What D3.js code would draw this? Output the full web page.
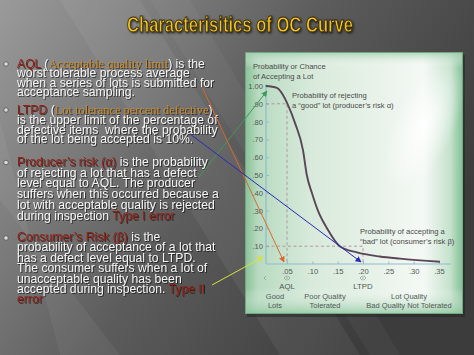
<!DOCTYPE html>
<html><head><meta charset="utf-8">
<script src="https://cdn.jsdelivr.net/npm/d3@7/dist/d3.min.js"></script>
<style>
html,body{margin:0;padding:0;background:#4a4a4a;}
svg{display:block;}
</style></head>
<body>
<div id="chart"></div>
<script>
// ---------- data ----------
const yTickValues = [0.10,0.20,0.30,0.40,0.50,0.60,0.70,0.80,0.90,1.00];
const yTickLabels = [".10",".20",".30",".40",".50",".60",".70",".80",".90","1.00"];
const xTickValues = [0.05,0.10,0.15,0.20,0.25,0.30,0.35];
const xTickLabels = [".05",".10",".15",".20",".25",".30",".35"];
// OC curve: fraction defective vs probability of acceptance
const ocDefective = [0.008,0.030,0.042,0.050,0.066,0.0815,0.089,0.099,0.111,0.129,0.154,0.188,0.233,0.273,0.352];
const ocProbAccept = [1.00,0.99,0.95,0.905,0.79,0.64,0.50,0.40,0.30,0.20,0.10,0.065,0.042,0.030,0.013];
const aqlValue = 0.05, ltpdValue = 0.20, alphaLevel = 0.90, betaLevel = 0.10;
const markerLabels = ["AQL","LTPD"];
const zoneLabels = [["Good","Lots"],["Poor Quality","Tolerated"],["Lot Quality","Bad Quality Not Tolerated"]];

const W = 474, H = 355;
const svg = d3.select("#chart").append("svg").attr("width",W).attr("height",H);
const defs = svg.append("defs");

// background
const bg = defs.append("linearGradient").attr("id","bg").attr("x1","0").attr("y1","0").attr("x2","1").attr("y2","0.5");
[["0","#9a9a9a"],["0.3","#7a7a7a"],["0.55","#5c5c5c"],["1","#3c3c3c"]].forEach(s=>bg.append("stop").attr("offset",s[0]).attr("stop-color",s[1]));
svg.append("rect").attr("width",W).attr("height",H).attr("fill","url(#bg)");
const streak = (pts,op)=>svg.append("polygon").attr("points",pts).attr("fill","#ffffff").attr("opacity",op);
streak("60,0 140,0 360,355 280,355",0.06);
streak("0,120 0,200 120,355 60,355",0.05);
streak("150,0 190,0 400,355 370,355",0.04);

// title
svg.append("text").attr("x",240).attr("y",32).attr("text-anchor","middle")
  .attr("font-family","'Liberation Sans Narrow','Arial Narrow','Liberation Sans',sans-serif")
  .attr("font-weight","bold").attr("font-size",22.5)
  .attr("textLength",226).attr("lengthAdjust","spacingAndGlyphs")
  .attr("fill","#f2c51c").attr("stroke","#3a2c08").attr("stroke-width",0.9)
  .style("filter","drop-shadow(1px 1px 1px rgba(0,0,0,0.65))")
  .text("Characterisitics of OC Curve");

// ---------- chart panel ----------
const pg = defs.append("linearGradient").attr("id","panel").attr("x1","0").attr("y1","0").attr("x2","1").attr("y2","0");
[["0","#88c098"],["0.06","#b8dac0"],["0.3","#d8eadb"],["0.6","#e8f2e9"],["0.82","#f5f9f5"],["0.94","#c6e2cd"],["1","#82bf95"]].forEach(s=>pg.append("stop").attr("offset",s[0]).attr("stop-color",s[1]));
const pv = defs.append("linearGradient").attr("id","panelv").attr("x1","0").attr("y1","0").attr("x2","0").attr("y2","1");
[["0","#9ccaa8",0.8],["0.06","#ffffff",0],["0.9","#ffffff",0],["1","#8cc49c",0.8]].forEach(s=>pv.append("stop").attr("offset",s[0]).attr("stop-color",s[1]).attr("stop-opacity",s[2]));
const hl = defs.append("radialGradient").attr("id","hl").attr("cx","0.5").attr("cy","0.5").attr("r","0.5");
hl.append("stop").attr("offset","0").attr("stop-color","#ffffff").attr("stop-opacity",0.9);
hl.append("stop").attr("offset","1").attr("stop-color","#ffffff").attr("stop-opacity",0);

svg.append("rect").attr("x",247).attr("y",55).attr("width",218).attr("height",262).attr("fill","#222").attr("opacity",0.5);
svg.append("rect").attr("x",245).attr("y",52).attr("width",218).attr("height",262).attr("fill","url(#panel)");
svg.append("rect").attr("x",245).attr("y",52).attr("width",218).attr("height",262).attr("fill","url(#panelv)");
svg.append("ellipse").attr("cx",425).attr("cy",125).attr("rx",30).attr("ry",70).attr("fill","url(#hl)").attr("transform","rotate(25,425,125)");
svg.append("rect").attr("x",245.5).attr("y",52.5).attr("width",217).attr("height",261).attr("fill","none").attr("stroke","#6fa982").attr("stroke-width",1);

// scales
const x = d3.scaleLinear().domain([0,0.35]).range([261.7,439]);
const y = d3.scaleLinear().domain([0,1]).range([264,86]);
const axisColor = "#8fbccb", labelColor = "#505a55";

// y axis
const yAxis = d3.axisRight(y).tickValues(yTickValues).tickFormat((d,i)=>yTickLabels[i]).tickSize(3).tickSizeOuter(0);
const gy = svg.append("g").attr("transform","translate(266,0)").call(yAxis);
gy.select(".domain").attr("stroke",axisColor).attr("stroke-width",1.2).attr("d","M0,"+y(1.01)+"V"+y(0));
gy.selectAll(".tick line").attr("stroke",axisColor);
gy.selectAll(".tick text").attr("x",-3).attr("text-anchor","end").attr("fill",labelColor)
  .attr("font-family","'Liberation Sans',Arial,sans-serif").attr("font-size",7.6);

// x axis
const xAxis = d3.axisBottom(x).tickValues(xTickValues).tickFormat((d,i)=>xTickLabels[i]).tickSize(0).tickPadding(5).tickSizeOuter(0);
const gx = svg.append("g").attr("transform","translate(0,"+y(0)+")").call(xAxis);
gx.select(".domain").attr("stroke",axisColor).attr("stroke-width",1.2).attr("d","M266,0H451");
gx.selectAll(".tick").append("line").attr("y1",0).attr("y2",-2.5).attr("stroke",axisColor);
gx.selectAll(".tick text").attr("fill",labelColor).attr("font-family","'Liberation Sans',Arial,sans-serif").attr("font-size",7.6);

// dashed reference lines
const dash = "#b08e98";
[[aqlValue,alphaLevel],[ltpdValue,betaLevel]].forEach(r=>{
  svg.append("path").attr("d","M266,"+y(r[1])+"H"+x(r[0])+"V"+y(0))
    .attr("fill","none").attr("stroke",dash).attr("stroke-width",0.9).attr("stroke-dasharray","3,2.5");
});

// OC curve
const line = d3.line().x((d,i)=>x(ocDefective[i])).y(d=>y(d)).curve(d3.curveMonotoneX);
svg.append("path").attr("d",line(ocProbAccept)).attr("fill","none").attr("stroke","#5a4656").attr("stroke-width",1.9);

// marker glyphs under axis
const mk = svg.append("g").attr("stroke","#8a9a90").attr("fill","none").attr("stroke-width",0.7);
[aqlValue,ltpdValue].forEach(v=>{
  const cx = x(v), cy = 278;
  mk.append("path").attr("d",`M${cx-1},${cy-2}L${cx-3},${cy}L${cx-1},${cy+2}M${cx+1},${cy-2}L${cx+3},${cy}L${cx+1},${cy+2}M${cx},${cy-2.5}V${cy+2.5}`);
});
mk.append("path").attr("d","M266,276L264,278L266,280");

const tfont = "'Liberation Sans',Arial,sans-serif";
[aqlValue,ltpdValue].forEach((v,i)=>{
  svg.append("text").attr("x",x(v)).attr("y",289).attr("text-anchor","middle").attr("font-family",tfont)
    .attr("font-size",7.8).attr("fill",labelColor).text(markerLabels[i]);
});
const zoneX = [275,325,409];
zoneLabels.forEach((lbl,i)=>{
  lbl.forEach((t,j)=>{
    svg.append("text").attr("x",zoneX[i]).attr("y",299+j*9).attr("text-anchor","middle").attr("font-family",tfont)
      .attr("font-size",7.5).attr("fill",labelColor).text(t);
  });
});

// chart annotations
const ann = (xx,yy,t)=>svg.append("text").attr("x",xx).attr("y",yy).attr("font-family",tfont).attr("font-size",7.6).attr("fill","#4a4a4a").text(t);
ann(253,69,"Probability or Chance");
ann(253,78.5,"of Accepting a Lot");
ann(292,98,"Probability of rejecting");
ann(292,108,"a \u201cgood\u201d lot (producer\u2019s risk \u03b1)");
ann(360,234,"Probability of accepting a");
ann(360,243.5,"\u201cbad\u201d lot (consumer\u2019s risk \u03b2)");

// ---------- left text ----------
const tg = svg.append("g").attr("font-family",tfont).attr("font-size",12.2).attr("fill","#f6f6f6")
  .style("filter","drop-shadow(1px 1px 0.5px rgba(0,0,0,0.55))");
const red = "#9a1d12", orange = "#c98a2c";
const lines = [
  [67.5,[["AQL",red],[" (",null],["Acceptable quality limit",orange,"serif"],[") is the",null]]],
  [77,[["worst tolerable process average",null]]],
  [86.5,[["when a series of lots is submitted for",null]]],
  [96,[["acceptance sampling.",null]]],
  [114,[["LTPD",red],[" (",null],["Lot tolerance percent defective",orange,"serif"],[")",null]]],
  [124,[["is the upper limit of the percentage of",null]]],
  [133.5,[["defective items  where the probability",null]]],
  [143,[["of the lot being accepted is 10%.",null]]],
  [166,[["Producer\u2019s risk (\u03b1)",red],[" is the probability",null]]],
  [176.5,[["of rejecting a lot that has a defect",null]]],
  [187,[["level equal to AQL. The producer",null]]],
  [198,[["suffers when this occurred because a",null]]],
  [208.5,[["lot with acceptable quality is rejected",null]]],
  [219.5,[["during inspection ",null],["Type I error",red]]],
  [241,[["Consumer\u2019s Risk (\u03b2)",red],[" is the",null]]],
  [251,[["probability of acceptance of a lot that",null]]],
  [261.5,[["has a defect level equal to LTPD.",null]]],
  [272,[["The consumer suffers when a lot of",null]]],
  [282.5,[["unacceptable quality has been",null]]],
  [292.5,[["accepted during inspection. ",null],["Type II",red]]],
  [303,[["error",red]]]
];
lines.forEach(l=>{
  const t = tg.append("text").attr("x",17).attr("y",l[0]).attr("xml:space","preserve");
  l[1].forEach(p=>{
    const s = t.append("tspan").text(p[0]);
    if(p[1]) s.attr("fill",p[1]);
    if(p[2]) s.attr("font-family","'Liberation Serif','Times New Roman',serif").attr("font-size",12.4);
  });
});
[64,110,162.5,238].forEach(by=>{
  svg.append("circle").attr("cx",6).attr("cy",by).attr("r",2.3).attr("fill","#d8d8d8").attr("stroke","#555").attr("stroke-width",0.8);
});

// ---------- arrows ----------
const arrows = [
  {from:[199,177],to:[267,91],color:"#3d9a5a"},
  {from:[202,87],to:[284,262],color:"#d86a30"},
  {from:[190,134],to:[361,262],color:"#2a2ab8"},
  {from:[212,285],to:[263,257],color:"#d8e040"}
];
arrows.forEach((a,i)=>{
  const m = defs.append("marker").attr("id","ah"+i).attr("viewBox","0 0 10 10").attr("refX",9).attr("refY",5)
    .attr("markerWidth",6).attr("markerHeight",6).attr("orient","auto").attr("markerUnits","userSpaceOnUse");
  m.append("path").attr("d","M0,0L10,5L0,10Z").attr("fill",a.color);
  svg.append("line").attr("x1",a.from[0]).attr("y1",a.from[1]).attr("x2",a.to[0]).attr("y2",a.to[1])
    .attr("stroke",a.color).attr("stroke-width",1).attr("marker-end","url(#ah"+i+")");
});
</script>
</body></html>
